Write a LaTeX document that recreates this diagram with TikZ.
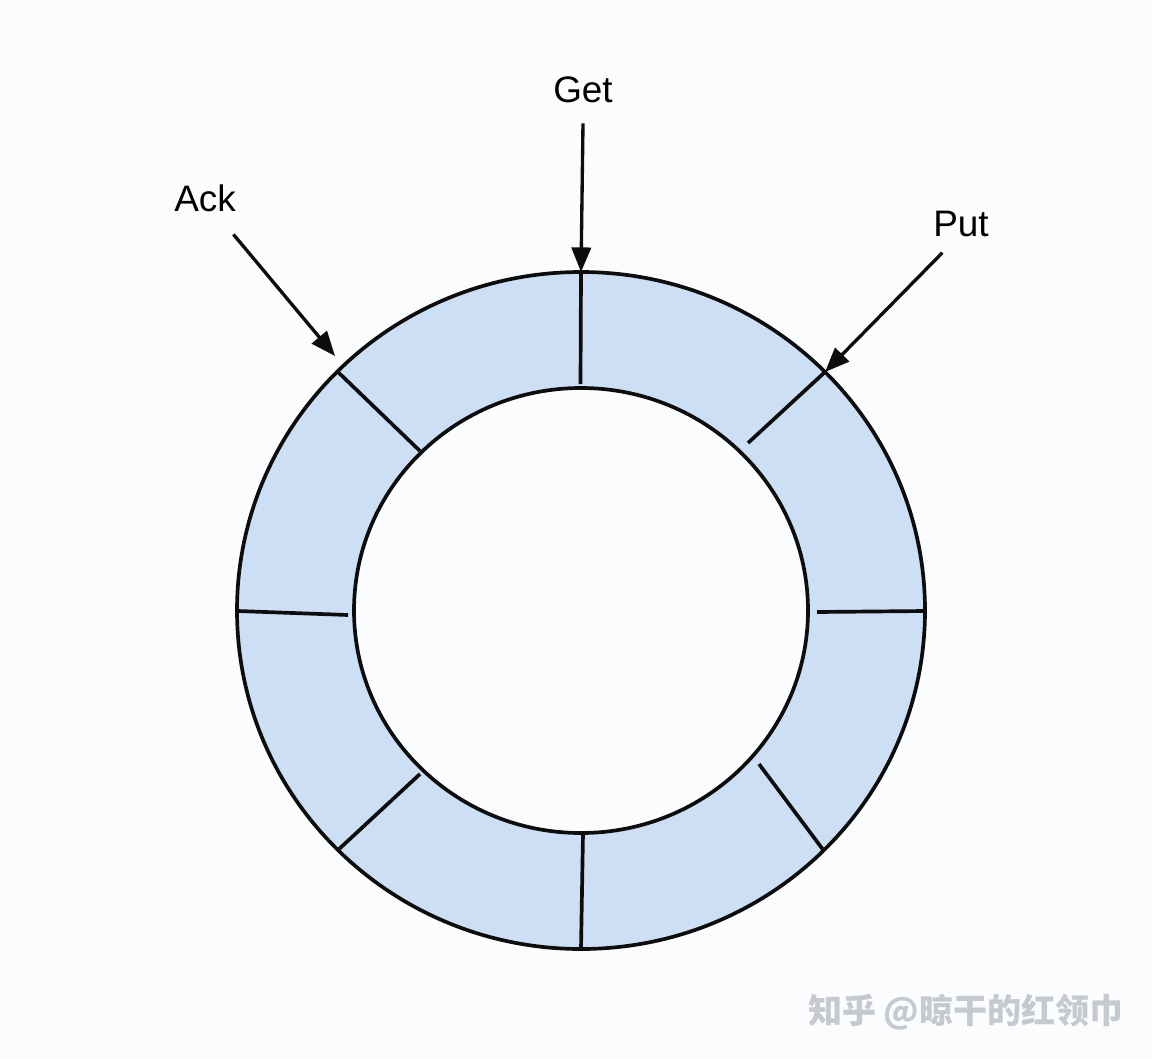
\documentclass[tikz,border=0pt]{standalone}
\usepackage{fontspec}
\setmainfont{Liberation Sans}
\newfontfamily\cjk{Noto Sans CJK SC}
\usetikzlibrary{arrows.meta}
\definecolor{ringblue}{HTML}{CCDFF4}
\definecolor{paper}{HTML}{FBFCFE}
\definecolor{markgray}{HTML}{C6CACF}
\tikzset{
  ringline/.style = {line width=2.1pt, black!95},
  arrowline/.style = {line width=1.9pt, black!95, -{Triangle[length=14pt, width=11pt]}},
  ringlabel/.style = {font=\fontsize{21}{24}\selectfont, black, inner xsep=0pt},
}
\begin{document}
\begin{tikzpicture}[x = 0.02cm, y = -0.02cm]
\fill[paper] (0,0) rectangle (1152,1058); % background

\fill[ringblue, even odd rule] (581,610.5) ellipse [x radius=344, y radius=338.5]
  (581,610.5) ellipse [x radius=227, y radius=222.5]; % ring fill
\draw[ringline] (581,610.5) ellipse [x radius=344, y radius=338.5]; % outer edge
\draw[ringline] (581,610.5) ellipse [x radius=227, y radius=222.5]; % inner edge

\draw[ringline] (581,272) -- (580.5,384); % slot wall, top
\draw[ringline] (825,372) -- (748,443); % slot wall, upper right
\draw[ringline] (817,612) -- (925,611); % slot wall, right
\draw[ringline] (759,764) -- (824,851); % slot wall, lower right
\draw[ringline] (583,833) -- (581,949); % slot wall, bottom
\draw[ringline] (420,774) -- (338,850); % slot wall, lower left
\draw[ringline] (238,611) -- (348,615); % slot wall, left
\draw[ringline] (338,372) -- (420,451); % slot wall, upper left

\node[ringlabel, inner ysep=11.6pt] (get) at (583,89.5) {Get}; % Get's label
\node[ringlabel, inner ysep=8.8pt] (put) at (961,224) {Put}; % Put's label
\node[ringlabel, inner ysep=12.8pt] (ack) at (205,198) {Ack}; % Ack's label

\coordinate (getTip) at (581,272); % Get's tip
\coordinate (putTip) at (825,372); % Put's tip
\coordinate (ackTip) at (335,356); % Ack's tip

\draw[arrowline] (get.south) -- (getTip); % Get's arrow
\draw[arrowline] (put.237) -- (putTip); % Put's arrow
\draw[arrowline] (ack.308) -- (ackTip); % Ack's arrow

\node[markgray, font=\cjk\bfseries\fontsize{19.4}{22}\selectfont] (mark) at (966,1012) {知乎 @晾干的红领巾}; % watermark
\end{tikzpicture}
\end{document}
